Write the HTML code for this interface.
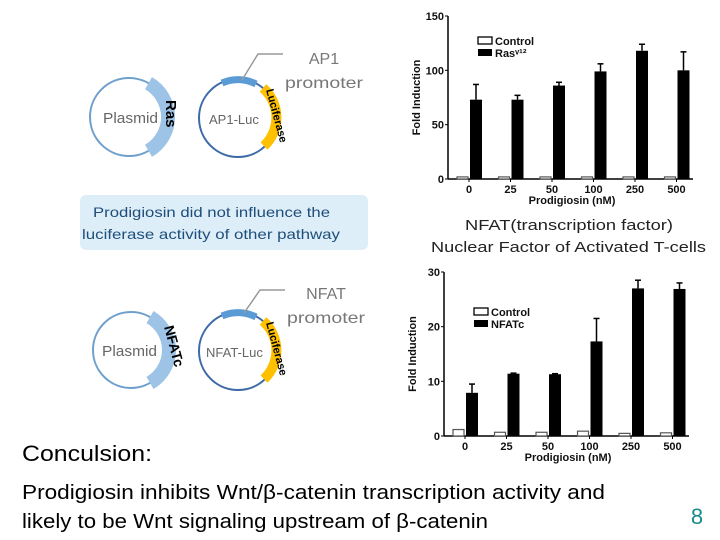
<!DOCTYPE html>
<html><head><meta charset="utf-8">
<style>
html,body{margin:0;padding:0;background:#fff;width:720px;height:540px;overflow:hidden}
svg{display:block}
.c{font-family:"Liberation Sans",sans-serif}
.ax{font-family:"Liberation Sans",sans-serif;font-weight:bold;font-size:11px;fill:#111}
</style></head><body>
<svg id="s" width="720" height="540" viewBox="0 0 720 540" xmlns="http://www.w3.org/2000/svg">
<g>
<circle cx="129" cy="117" r="39" fill="none" stroke="#6fa0cc" stroke-width="2"/>
<path d="M 148.5 83.2 A 39 39 0 0 1 148.5 150.8" fill="none" stroke="#9dc3e6" stroke-width="14"/>
<text x="103" y="123" class="c" font-size="15" fill="#666" textLength="55" lengthAdjust="spacingAndGlyphs">Plasmid</text>
<text transform="translate(166,100) rotate(90)" class="c" font-size="15" font-weight="bold" fill="#000">Ras</text>
</g>
<g>
<circle cx="238" cy="118" r="39" fill="none" stroke="#3d6aa8" stroke-width="2"/>
<path d="M 222 83 A 39 39 0 0 1 256 84" fill="none" stroke="#5b9bd5" stroke-width="7"/>
<path d="M 263 88 A 39 39 0 0 1 264 146" fill="none" stroke="#ffc000" stroke-width="10"/>
<text transform="translate(266,90) rotate(75)" class="c" font-size="11" font-weight="bold" fill="#000">Luciferase</text>
<text x="209" y="124" class="c" font-size="13" fill="#666">AP1-Luc</text>
<polyline points="242,80 258,54 283,54" fill="none" stroke="#999" stroke-width="1.5"/>
<text x="324" y="64" text-anchor="middle" class="c" font-size="16" fill="#777">AP1</text>
<text x="285" y="88" class="c" font-size="16" fill="#777" textLength="78" lengthAdjust="spacingAndGlyphs">promoter</text>
</g>
<g>
<circle cx="131" cy="350" r="38" fill="none" stroke="#6fa0cc" stroke-width="2"/>
<path d="M 150 317.1 A 38 38 0 0 1 150 382.9" fill="none" stroke="#9dc3e6" stroke-width="14"/>
<text x="102" y="356" class="c" font-size="15" fill="#666" textLength="55" lengthAdjust="spacingAndGlyphs">Plasmid</text>
<text transform="translate(164,327) rotate(75)" class="c" font-size="14" font-weight="bold" fill="#000">NFATc</text>
</g>
<g>
<circle cx="238" cy="351" r="39" fill="none" stroke="#3d6aa8" stroke-width="2"/>
<path d="M 222 316 A 39 39 0 0 1 256 317" fill="none" stroke="#5b9bd5" stroke-width="7"/>
<path d="M 263 321 A 39 39 0 0 1 264 379" fill="none" stroke="#ffc000" stroke-width="10"/>
<text transform="translate(266,323) rotate(75)" class="c" font-size="11" font-weight="bold" fill="#000">Luciferase</text>
<text x="206" y="357" class="c" font-size="13" fill="#666">NFAT-Luc</text>
<polyline points="244,313 260,290 285,290" fill="none" stroke="#999" stroke-width="1.5"/>
<text x="326" y="299" text-anchor="middle" class="c" font-size="16" fill="#777">NFAT</text>
<text x="287" y="323" class="c" font-size="16" fill="#777" textLength="78" lengthAdjust="spacingAndGlyphs">promoter</text>
</g>
<rect x="80" y="195" width="288" height="55" rx="6" fill="#ddeef9"/>
<text x="93" y="217" class="c" font-size="14" fill="#1f4e79" textLength="237" lengthAdjust="spacingAndGlyphs">Prodigiosin did not influence the</text>
<text x="82" y="239" class="c" font-size="14" fill="#1f4e79" textLength="258" lengthAdjust="spacingAndGlyphs">luciferase activity of other pathway</text>
<text x="465" y="230" class="c" font-size="15" fill="#222" textLength="208" lengthAdjust="spacingAndGlyphs">NFAT(transcription factor)</text>
<text x="431" y="252" class="c" font-size="15" fill="#222" textLength="275" lengthAdjust="spacingAndGlyphs">Nuclear Factor of Activated T-cells</text>
<text x="22" y="461" class="c" font-size="22" fill="#000" textLength="130" lengthAdjust="spacingAndGlyphs">Conculsion:</text>
<text x="22" y="499" class="c" font-size="20" fill="#000" textLength="583" lengthAdjust="spacingAndGlyphs">Prodigiosin inhibits Wnt/β-catenin transcription activity and</text>
<text x="22" y="528" class="c" font-size="20" fill="#000" textLength="466" lengthAdjust="spacingAndGlyphs">likely to be Wnt signaling upstream of β-catenin</text>
<text x="697" y="524" text-anchor="middle" class="c" font-size="22" fill="#1a8a8a">8</text>
<g id="chart1"></g>
<g id="chart2"></g>
</svg>
<script>
const categories = ["0","25","50","100","250","500"];
const rasValues = [73, 73, 86, 99, 118, 100];
const rasErr = [87, 77, 89, 106, 124, 117];
const ctrl1Values = [1, 1, 1, 1, 1, 1];
const ticks1 = [0, 50, 100, 150];
const nfatValues = [7.9, 11.4, 11.3, 17.3, 27, 26.9];
const nfatErr = [9.5, 11.5, 11.4, 21.5, 28.5, 28];
const ctrl2Values = [1, 0.5, 0.5, 0.7, 0.3, 0.4];
const ticks2 = [0, 10, 20, 30];
const NS = "http://www.w3.org/2000/svg";
function mk(parent, tag, attrs, txt){
  const e = document.createElementNS(NS, tag);
  for (const k in attrs) e.setAttribute(k, attrs[k]);
  if (txt !== undefined) e.textContent = txt;
  parent.appendChild(e); return e;
}
function draw(g, cfg){
  const y = v => cfg.y0 - (v / cfg.max) * (cfg.y0 - cfg.yTop);
  const x = i => cfg.x0 + 22 + i * 41.5;
  mk(g,'line',{x1:cfg.x0,y1:cfg.yTop,x2:cfg.x0,y2:cfg.y0,stroke:'#000','stroke-width':1.5});
  mk(g,'line',{x1:cfg.x0,y1:cfg.y0,x2:cfg.x0+245,y2:cfg.y0,stroke:'#000','stroke-width':1.5});
  cfg.ticks.forEach(t=>{
    mk(g,'line',{x1:cfg.x0-3,y1:y(t),x2:cfg.x0,y2:y(t),stroke:'#000'});
    const tl = mk(g,'text',{x:cfg.x0-4,y:y(t)+4,'text-anchor':'end',class:'ax'},String(t));
    
    
  });
  categories.forEach((c,i)=>{
    const cx = x(i);
    const cb = mk(g,'rect',{x:cx-13,y:y(cfg.ctrl[i])-1,width:11,height:Math.max(2,cfg.y0-y(cfg.ctrl[i])+1),fill:'#fff',stroke:'#555','stroke-width':1.2});
    
    
    const yt = y(cfg.vals[i]);
    const ye = y(cfg.err[i]);
    mk(g,'line',{x1:cx+6,y1:ye,x2:cx+6,y2:yt,stroke:'#000','stroke-width':1.5});
    mk(g,'line',{x1:cx+3,y1:ye,x2:cx+9,y2:ye,stroke:'#000','stroke-width':1.5});
    const b = mk(g,'rect',{x:cx,y:yt,width:12,height:cfg.y0-yt,fill:'#000'});
    
    
    mk(g,'line',{x1:cx-1,y1:cfg.y0,x2:cx-1,y2:cfg.y0+3,stroke:'#000'});
    const xl = mk(g,'text',{x:cx-1,y:cfg.y0+14,'text-anchor':'middle',class:'ax'},c);
    
    
  });
  const xt = mk(g,'text',{x:cfg.x0+124,y:cfg.y0+25,'text-anchor':'middle',class:'ax'},'Prodigiosin (nM)');
  
  
  const yl = mk(g,'text',{transform:`translate(${cfg.x0-28},${(cfg.y0+cfg.yTop)/2}) rotate(-90)`,'text-anchor':'middle',class:'ax'},'Fold Induction');
  
  
  const lx = cfg.x0+30, ly = cfg.legY;
  const l1 = mk(g,'rect',{x:lx,y:ly,width:14,height:7,fill:'#fff',stroke:'#000','stroke-width':1.3});
  
  
  mk(g,'text',{x:lx+17,y:ly+8,class:'ax'},'Control');
  const l2 = mk(g,'rect',{x:lx,y:ly+12,width:14,height:7,fill:'#000'});
  
  
  mk(g,'text',{x:lx+17,y:ly+20,class:'ax'},cfg.label);
}
draw(document.getElementById('chart1'),{x0:448,y0:179,yTop:16,max:150,ticks:ticks1,vals:rasValues,err:rasErr,ctrl:ctrl1Values,legY:37,label:'Ras\u1D5B\u00B9\u00B2'});
draw(document.getElementById('chart2'),{x0:444,y0:436,yTop:272,max:30,ticks:ticks2,vals:nfatValues,err:nfatErr,ctrl:ctrl2Values,legY:308,label:'NFATc'});
</script>
</body></html>
